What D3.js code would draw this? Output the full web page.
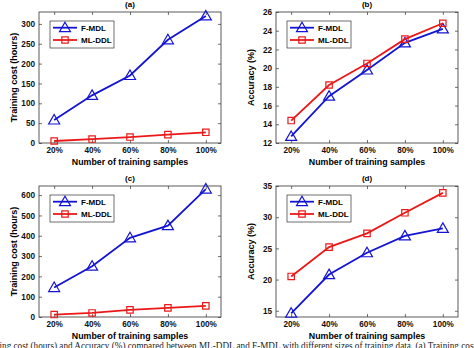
<!DOCTYPE html>
<html>
<head>
<meta charset="utf-8">
<script src="https://cdn.jsdelivr.net/npm/d3@7"></script>
<style>
  body { margin: 0; background: #fff; }
  svg text { font-family: "Liberation Sans", Arial, sans-serif; }
  svg text.caption { font-family: "Liberation Serif", "DejaVu Serif", serif; }
</style>
</head>
<body>
<svg id="chart" width="474" height="348"></svg>
<script>
// data
const categories = ["20%", "40%", "60%", "80%", "100%"];
const seriesNames = ["F-MDL", "ML-DDL"];

const costA_fmdl = [58, 120, 170, 260, 320];
const costA_mlddl = [5, 10, 15, 21, 27];
const accB_fmdl = [12.7, 17.0, 19.8, 22.7, 24.2];
const accB_mlddl = [14.4, 18.2, 20.5, 23.1, 24.8];
const costC_fmdl = [145, 250, 390, 450, 630];
const costC_mlddl = [12, 20, 35, 45, 55];
const accD_fmdl = [14.6, 20.8, 24.3, 27.0, 28.2];
const accD_mlddl = [20.5, 25.2, 27.4, 30.7, 33.9];

const ticksA = [0, 50, 100, 150, 200, 250, 300];
const ticksB = [12, 14, 16, 18, 20, 22, 24, 26];
const ticksC = [0, 100, 200, 300, 400, 500, 600];
const ticksD = [15, 20, 25, 30, 35];

const captionText = "Training cost (hours) and Accuracy (%) compared between ML-DDL and F-MDL with different sizes of training data. (a) Training cost";

const panels = [
    { title: "(a)", ox: 0, oy: 0, ylab: "Training cost (hours)", dom: [0, 330], ticks: ticksA, s: [costA_fmdl, costA_mlddl] },
    { title: "(b)", ox: 237, oy: 0, ylab: "Accuracy (%)", dom: [12, 26], ticks: ticksB, s: [accB_fmdl, accB_mlddl] },
    { title: "(c)", ox: 0, oy: 174, ylab: "Training cost (hours)", dom: [0, 645], ticks: ticksC, s: [costC_fmdl, costC_mlddl] },
    { title: "(d)", ox: 237, oy: 174, ylab: "Accuracy (%)", dom: [14, 35], ticks: ticksD, s: [accD_fmdl, accD_mlddl] }
];

const colors = ["#1414d4", "#ec1818"];
const svg = d3.select("#chart");

const box = { l: 39, r: 221, t: 12, b: 143 };
const triangle = "M0,-5.5 L5.5,4 L-5.5,4 Z";
const square = "M-3.2,-3.2 H3.2 V3.2 H-3.2 Z";

panels.forEach(p => {
    let g = svg.append("g").attr("transform", `translate(${p.ox},${p.oy})`);

    let x = d3.scaleLinear().domain([0.6, 5.4]).range([box.l, box.r]);
    let y = d3.scaleLinear().domain(p.dom).range([box.b, box.t]);

    // frame
    g.append("rect")
        .attr("x", box.l).attr("y", box.t)
        .attr("width", box.r - box.l).attr("height", box.b - box.t)
        .attr("fill", "none").attr("stroke", "#333").attr("stroke-width", 0.8);

    // axes with inward ticks
    let yAxis = g.append("g").attr("transform", `translate(${box.l},0)`)
        .call(d3.axisLeft(y).tickValues(p.ticks).tickSize(-3).tickPadding(4));
    let yAxisR = g.append("g").attr("transform", `translate(${box.r},0)`)
        .call(d3.axisRight(y).tickValues(p.ticks).tickSize(-3).tickFormat(""));
    let xAxis = g.append("g").attr("transform", `translate(0,${box.b})`)
        .call(d3.axisBottom(x).tickValues([1, 2, 3, 4, 5]).tickSize(-3).tickPadding(4)
            .tickFormat((d, i) => categories[i]));
    let xAxisT = g.append("g").attr("transform", `translate(0,${box.t})`)
        .call(d3.axisTop(x).tickValues([1, 2, 3, 4, 5]).tickSize(-3).tickFormat(""));

    [yAxis, yAxisR, xAxis, xAxisT].forEach(a => {
        a.select(".domain").remove();
        a.selectAll("line").attr("stroke", "#333").attr("stroke-width", 0.7);
        a.selectAll("text").attr("font-size", 8.2).attr("font-weight", "bold").attr("fill", "#111");
    });

    // title and labels
    g.append("text").attr("x", (box.l + box.r) / 2).attr("y", 7)
        .attr("text-anchor", "middle").attr("font-size", 8).attr("font-weight", "bold")
        .text(p.title);
    g.append("text").attr("x", (box.l + box.r) / 2).attr("y", 164.5)
        .attr("text-anchor", "middle").attr("font-size", 8.8).attr("font-weight", "bold")
        .text("Number of training samples");
    g.append("text").attr("transform", `translate(17,${(box.t + box.b) / 2}) rotate(-90)`)
        .attr("text-anchor", "middle").attr("font-size", 9).attr("font-weight", "bold")
        .text(p.ylab);

    // series
    let line = d3.line().x((d, i) => x(i + 1)).y(d => y(d));
    p.s.forEach((vals, k) => {
        g.append("path").datum(vals)
            .attr("d", line).attr("fill", "none")
            .attr("stroke", colors[k]).attr("stroke-width", 1.8);
        g.selectAll(null).data(vals).enter()
            .append("path")
            .attr("transform", (d, i) => `translate(${x(i + 1)},${y(d)})`)
            .attr("d", k === 0 ? triangle : square)
            .attr("fill", "none").attr("stroke", colors[k]).attr("stroke-width", 1.2);
    });

    // legend
    let lg = g.append("g");
    lg.append("rect").attr("x", 50).attr("y", 21).attr("width", 64).attr("height", 27)
        .attr("fill", "#fff").attr("stroke", "#333").attr("stroke-width", 0.7);
    seriesNames.forEach((name, k) => {
        let ly = 27.7 + k * 12.3;
        lg.append("line").attr("x1", 53).attr("x2", 77).attr("y1", ly).attr("y2", ly)
            .attr("stroke", colors[k]).attr("stroke-width", 1.8);
        lg.append("path").attr("transform", `translate(65,${ly})`)
            .attr("d", k === 0 ? triangle : square)
            .attr("fill", "none").attr("stroke", colors[k]).attr("stroke-width", 1.2);
        lg.append("text").attr("x", 81).attr("y", ly + 3).attr("font-size", 8)
            .attr("font-weight", "bold").text(name);
    });
});

// caption line at the bottom, cropped by the picture edges like the reference
svg.append("text").attr("class", "caption")
    .attr("x", -20).attr("y", 349)
    .attr("font-size", 10).attr("fill", "#222")
    .attr("textLength", 496).attr("lengthAdjust", "spacingAndGlyphs")
    .text(captionText);
</script>
</body>
</html>
